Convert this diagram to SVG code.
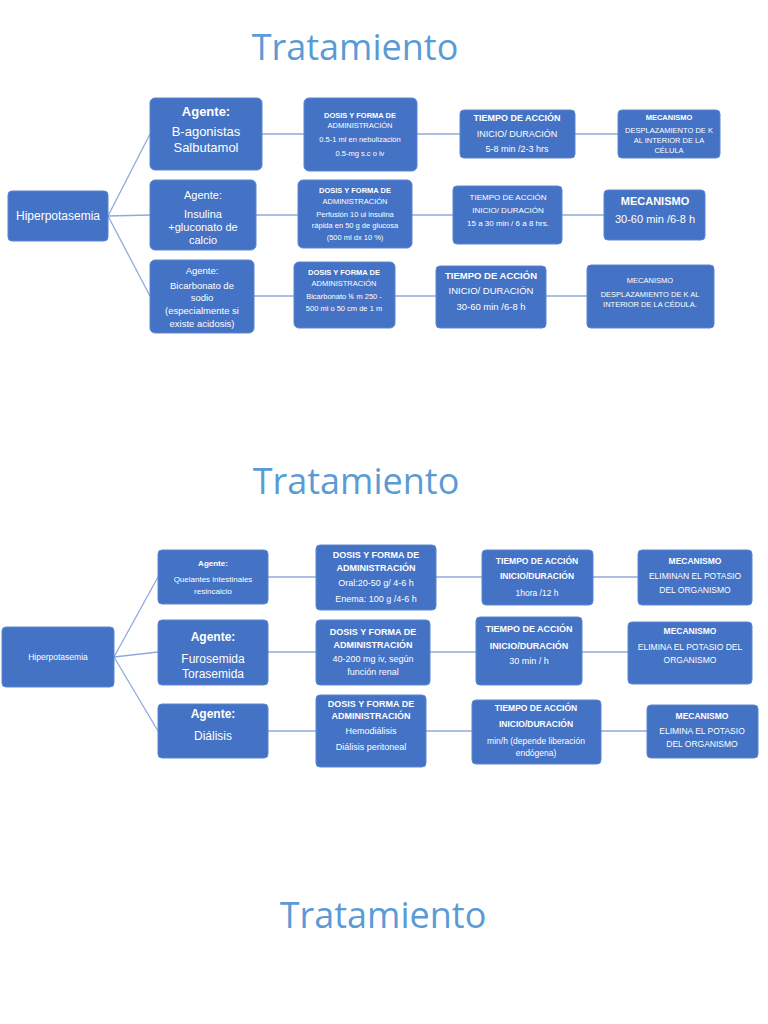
<svg xmlns="http://www.w3.org/2000/svg" width="768" height="1024" viewBox="0 0 768 1024">
<style>
.b{fill:#4472c4;stroke:#5b86d0;stroke-width:1}
.t{fill:#fff;font-family:"Liberation Sans",Arial,sans-serif;text-anchor:middle}
.h{fill:#5b9bd5;font-family:"Open Sans","Liberation Sans",sans-serif;font-size:36px;text-anchor:middle}
.c line{stroke:#8faadc;stroke-width:1.3}
</style>
<rect width="768" height="1024" fill="#fff"/>
<text class="h" x="355" y="60">Tratamiento</text>
<text class="h" x="356" y="494">Tratamiento</text>
<text class="h" x="383" y="928">Tratamiento</text>
<g class="c">
<line x1="108" y1="216" x2="150" y2="134"/><line x1="108" y1="216" x2="150" y2="215"/><line x1="108" y1="216" x2="150" y2="296"/>
<line x1="262" y1="134" x2="304" y2="134"/><line x1="417" y1="134" x2="460" y2="134"/><line x1="575" y1="134" x2="618" y2="134"/>
<line x1="256" y1="215" x2="298" y2="215"/><line x1="412" y1="215" x2="453" y2="215"/><line x1="562" y1="215" x2="604" y2="215"/>
<line x1="254" y1="296" x2="294" y2="296"/><line x1="395" y1="296" x2="436" y2="296"/><line x1="546" y1="296" x2="587" y2="296"/>
<line x1="114" y1="657" x2="158" y2="577"/><line x1="114" y1="657" x2="158" y2="652"/><line x1="114" y1="657" x2="158" y2="731"/>
<line x1="268" y1="577" x2="316" y2="577"/><line x1="436" y1="577" x2="482" y2="577"/><line x1="593" y1="577" x2="638" y2="577"/>
<line x1="268" y1="652" x2="316" y2="652"/><line x1="430" y1="652" x2="476" y2="652"/><line x1="582" y1="652" x2="628" y2="652"/>
<line x1="268" y1="731" x2="316" y2="731"/><line x1="426" y1="731" x2="472" y2="731"/><line x1="601" y1="731" x2="647" y2="731"/>
</g>
<g id="s1-hip"><rect class="b" x="8" y="191" width="100" height="50" rx="4"/><text class="t" x="58" y="220" font-size="12">Hiperpotasemia</text></g>
<g id="s1-a1"><rect class="b" x="150" y="98" width="112" height="72" rx="5"/><text class="t" font-size="13"><tspan x="206" y="116" font-weight="bold">Agente:</tspan><tspan x="206" y="136">B-agonistas</tspan><tspan x="206" y="152">Salbutamol</tspan></text></g>
<g id="s1-d1"><rect class="b" x="304" y="98" width="113" height="73" rx="5"/><text class="t" font-size="7.5"><tspan x="360" y="118" font-weight="bold">DOSIS Y FORMA DE</tspan><tspan x="360" y="128">ADMINISTRACIÓN</tspan><tspan x="360" y="142">0.5-1 ml en nebulización</tspan><tspan x="360" y="156">0.5-mg s.c o iv</tspan></text></g>
<g id="s1-t1"><rect class="b" x="460" y="110" width="115" height="48" rx="4"/><text class="t" font-size="9"><tspan x="517" y="121" font-weight="bold">TIEMPO DE ACCIÓN</tspan><tspan x="517" y="137">INICIO/ DURACIÓN</tspan><tspan x="517" y="152">5-8 min /2-3 hrs</tspan></text></g>
<g id="s1-m1"><rect class="b" x="618" y="110" width="102" height="48" rx="4"/><text class="t" font-size="7.5"><tspan x="669" y="120" font-weight="bold">MECANISMO</tspan><tspan x="669" y="133">DESPLAZAMIENTO DE K</tspan><tspan x="669" y="143">AL INTERIOR DE LA</tspan><tspan x="669" y="153">CÉLULA</tspan></text></g>
<g id="s1-a2"><rect class="b" x="150" y="180" width="106" height="70" rx="5"/><text class="t" font-size="11"><tspan x="203" y="199">Agente:</tspan><tspan x="203" y="218">Insulina</tspan><tspan x="203" y="231">+gluconato de</tspan><tspan x="203" y="244">calcio</tspan></text></g>
<g id="s1-d2"><rect class="b" x="298" y="180" width="114" height="68" rx="5"/><text class="t" font-size="7.5"><tspan x="355" y="193" font-weight="bold">DOSIS Y FORMA DE</tspan><tspan x="355" y="204">ADMINISTRACIÓN</tspan><tspan x="355" y="217">Perfusión 10 ui insulina</tspan><tspan x="355" y="228">rápida en 50 g de glucosa</tspan><tspan x="355" y="240">(500 ml dx 10 %)</tspan></text></g>
<g id="s1-t2"><rect class="b" x="453" y="186" width="109" height="58" rx="4"/><text class="t" font-size="8"><tspan x="508" y="200">TIEMPO DE ACCIÓN</tspan><tspan x="508" y="213">INICIO/ DURACIÓN</tspan><tspan x="508" y="226">15 a 30 min / 6 a 8 hrs.</tspan></text></g>
<g id="s1-m2"><rect class="b" x="604" y="190" width="101" height="50" rx="4"/><text class="t" font-size="11"><tspan x="655" y="205" font-weight="bold">MECANISMO</tspan><tspan x="655" y="223">30-60 min /6-8 h</tspan></text></g>
<g id="s1-a3"><rect class="b" x="150" y="260" width="104" height="73" rx="5"/><text class="t" font-size="9.5"><tspan x="202" y="274">Agente:</tspan><tspan x="202" y="289">Bicarbonato de</tspan><tspan x="202" y="301">sodio</tspan><tspan x="202" y="314">(especialmente si</tspan><tspan x="202" y="327">existe acidosis)</tspan></text></g>
<g id="s1-d3"><rect class="b" x="294" y="262" width="101" height="66" rx="5"/><text class="t" font-size="7.5"><tspan x="344" y="275" font-weight="bold">DOSIS Y FORMA DE</tspan><tspan x="344" y="286">ADMINISTRACIÓN</tspan><tspan x="344" y="299">Bicarbonato ⅙ m 250 -</tspan><tspan x="344" y="311">500 ml o 50 cm de 1 m</tspan></text></g>
<g id="s1-t3"><rect class="b" x="436" y="266" width="110" height="62" rx="4"/><text class="t" font-size="9.5"><tspan x="491" y="279" font-weight="bold">TIEMPO DE ACCIÓN</tspan><tspan x="491" y="294">INICIO/ DURACIÓN</tspan><tspan x="491" y="310">30-60 min /6-8 h</tspan></text></g>
<g id="s1-m3"><rect class="b" x="587" y="265" width="127" height="63" rx="4"/><text class="t" font-size="7.5"><tspan x="650" y="283">MECANISMO</tspan><tspan x="650" y="297">DESPLAZAMIENTO DE K AL</tspan><tspan x="650" y="307">INTERIOR DE LA CÉDULA.</tspan></text></g>

<g id="s2-hip"><rect class="b" x="2" y="627" width="112" height="60" rx="4"/><text class="t" x="58" y="660" font-size="8.5">Hiperpotasemia</text></g>
<g id="s2-a1"><rect class="b" x="158" y="550" width="110" height="54" rx="4"/><text class="t" font-size="8"><tspan x="213" y="566" font-weight="bold">Agente:</tspan><tspan x="213" y="582">Quelantes intestinales</tspan><tspan x="213" y="594">resincalcio</tspan></text></g>
<g id="s2-d1"><rect class="b" x="316" y="545" width="120" height="65" rx="4"/><text class="t" font-size="9"><tspan x="376" y="558" font-weight="bold">DOSIS Y FORMA DE</tspan><tspan x="376" y="571" font-weight="bold">ADMINISTRACIÓN</tspan><tspan x="376" y="586">Oral:20-50 g/ 4-6 h</tspan><tspan x="376" y="602">Enema: 100 g /4-6 h</tspan></text></g>
<g id="s2-t1"><rect class="b" x="482" y="550" width="111" height="55" rx="4"/><text class="t" font-size="8.5"><tspan x="537" y="564" font-weight="bold">TIEMPO DE ACCIÓN</tspan><tspan x="537" y="579" font-weight="bold">INICIO/DURACIÓN</tspan><tspan x="537" y="596">1hora /12 h</tspan></text></g>
<g id="s2-m1"><rect class="b" x="638" y="550" width="114" height="55" rx="4"/><text class="t" font-size="8.5"><tspan x="695" y="564" font-weight="bold">MECANISMO</tspan><tspan x="695" y="579">ELIMINAN EL POTASIO</tspan><tspan x="695" y="593">DEL ORGANISMO</tspan></text></g>
<g id="s2-a2"><rect class="b" x="158" y="620" width="110" height="65" rx="4"/><text class="t" font-size="12"><tspan x="213" y="641" font-weight="bold">Agente:</tspan><tspan x="213" y="663">Furosemida</tspan><tspan x="213" y="678">Torasemida</tspan></text></g>
<g id="s2-d2"><rect class="b" x="316" y="620" width="114" height="65" rx="4"/><text class="t" font-size="9"><tspan x="373" y="635" font-weight="bold">DOSIS Y FORMA DE</tspan><tspan x="373" y="648" font-weight="bold">ADMINISTRACIÓN</tspan><tspan x="373" y="662">40-200 mg iv, según</tspan><tspan x="373" y="675">función renal</tspan></text></g>
<g id="s2-t2"><rect class="b" x="476" y="617" width="106" height="68" rx="4"/><text class="t" font-size="9"><tspan x="529" y="632" font-weight="bold">TIEMPO DE ACCIÓN</tspan><tspan x="529" y="649" font-weight="bold">INICIO/DURACIÓN</tspan><tspan x="529" y="664">30 min / h</tspan></text></g>
<g id="s2-m2"><rect class="b" x="628" y="622" width="124" height="62" rx="4"/><text class="t" font-size="8.5"><tspan x="690" y="634" font-weight="bold">MECANISMO</tspan><tspan x="690" y="650">ELIMINA EL POTASIO DEL</tspan><tspan x="690" y="663">ORGANISMO</tspan></text></g>
<g id="s2-a3"><rect class="b" x="158" y="704" width="110" height="54" rx="4"/><text class="t" font-size="12"><tspan x="213" y="718" font-weight="bold">Agente:</tspan><tspan x="213" y="740">Diálisis</tspan></text></g>
<g id="s2-d3"><rect class="b" x="316" y="695" width="110" height="72" rx="4"/><text class="t" font-size="9"><tspan x="371" y="707" font-weight="bold">DOSIS Y FORMA DE</tspan><tspan x="371" y="719" font-weight="bold">ADMINISTRACIÓN</tspan><tspan x="371" y="734">Hemodiálisis</tspan><tspan x="371" y="750">Diálisis peritoneal</tspan></text></g>
<g id="s2-t3"><rect class="b" x="472" y="700" width="129" height="64" rx="4"/><text class="t" font-size="8.5"><tspan x="536" y="711" font-weight="bold">TIEMPO DE ACCIÓN</tspan><tspan x="536" y="727" font-weight="bold">INICIO/DURACIÓN</tspan><tspan x="536" y="744">min/h (depende liberación</tspan><tspan x="536" y="756">endógena)</tspan></text></g>
<g id="s2-m3"><rect class="b" x="647" y="705" width="111" height="53" rx="4"/><text class="t" font-size="8.5"><tspan x="702" y="719" font-weight="bold">MECANISMO</tspan><tspan x="702" y="734">ELIMINA EL POTASIO</tspan><tspan x="702" y="747">DEL ORGANISMO</tspan></text></g>
</svg>
